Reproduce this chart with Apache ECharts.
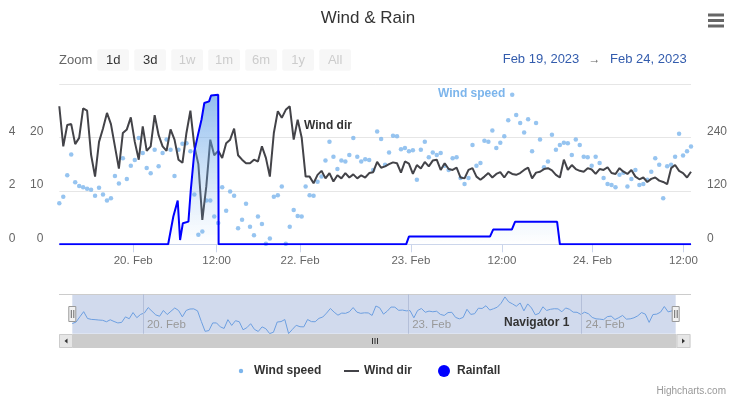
<!DOCTYPE html>
<html>
<head>
<meta charset="utf-8">
<title>Wind &amp; Rain</title>
<script src="https://cdn.jsdelivr.net/npm/echarts@6/dist/echarts.min.js"></script>
</head>
<body style="margin:0;padding:0">
<div id="chart" style="width:736px;height:399px;"></div>
<script type="text/javascript">
var chart = echarts.init(document.getElementById('chart'));

// x is the point index along the (ordinal) time axis
var N = 160;
var tickPos = [18.6, 39.6, 60.6, 88.5, 111.4, 134.2, 157.1];
var tickText = ['20. Feb', '12:00', '22. Feb', '23. Feb', '12:00', '24. Feb', '12:00'];
var navTickPos = [18.6, 88.5, 134.2];
var navTickText = ['20. Feb', '23. Feb', '24. Feb'];

var windSpeed = [
  7.7, 8.9, 12.9, 16.8, 11.6, 10.9, 10.7, 10.4, 10.2, 9.1,
  10.6, 9.3, 8.2, 8.6, 12.8, 11.4, 16.1, 12.2, 14.7, 15.8,
  19.9, 17.1, 14.3, 13.3, 17.7, 14.6, 17.1, 19.6, 17.7, 12.8,
  17.7, 18.8, 18.9, 17.4, 9.3, 1.8, 2.4, 8.2, 8.2, 5.2,
  4.0, 10.7, 6.3, 9.9, 9.1, 3.0, 4.6, 7.6, 3.3, 1.7,
  5.2, 3.8, 0.1, 1.1, 8.9, 9.2, 10.8, 0.1, 3.3, 6.4,
  5.3, 5.2, 10.8, 9.2, 9.1, 11.7, 12.7, 15.7, 19.2, 16.4,
  14.1, 15.7, 15.5, 16.7, 19.9, 16.4, 15.5, 15.9, 15.8, 13.9,
  21.1, 19.7, 14.9, 17.2, 20.3, 20.2, 17.8, 18, 17.4, 17.6,
  12.1, 17.7, 19.2, 16.3, 17.2, 16.7, 17.1, 14.7, 13.9, 16.1,
  16.3, 12.4, 11.3, 12.4, 18.6, 14.7, 15.2, 19.4, 19.2, 21.3,
  18, 19, 20.2, 23.2, 28, 24.2, 22.7, 20.9, 23.4, 17.4,
  22.7, 19.6, 14.4, 15.5, 20.5, 17.7, 18.6, 19, 18.9, 16.7,
  19.6, 18.6, 16.4, 16.3, 14.7, 16.4, 15.2, 12.4, 11.3, 11.1,
  10.7, 13, 13.4, 10.8, 12.2, 13.9, 11.1, 11.3, 12.1, 13.6,
  16.1, 14.9, 8.6, 14.6, 14.9, 16.4, 20.7, 16.6, 17.4, 18.3
];

var windDir = [
  310, 220, 268, 270, 225, 239, 305, 300, 201, 152,
  230, 260, 295, 270, 220, 170, 250, 258, 285, 230,
  190, 265, 210, 220, 290, 245, 220, 210, 258, 235,
  190, 183, 250, 300, 220, 180, 55, 130, 235, 200,
  210, 194, 227, 235, 260, 200, 190, 182, 182, 190,
  186, 220, 194, 152, 250, 299, 284, 302, 310, 235,
  280, 240, 152, 152, 137, 156, 165, 148, 160, 141,
  155, 148, 160, 150, 157, 148, 155, 150, 160, 162,
  185, 172, 175, 180, 184, 182, 161, 186, 181, 158,
  178, 170, 185, 175, 188, 190, 167, 182, 169, 167,
  172, 150, 148, 167, 171, 152, 145, 152, 160, 150,
  158, 162, 150, 163, 158, 156, 160, 167, 172, 148,
  161, 163, 169, 171, 166, 156, 150, 190, 167, 178,
  169, 165, 163, 171, 168, 158, 169, 167, 173, 160,
  158, 171, 163, 158, 167, 152, 146, 150, 140, 147,
  150, 143, 140, 135, 171, 178, 165, 160, 150, 163
];

// rainfall only changes at a few moments
var rainX = [0, 27.4, 28.7, 29.8, 30.4, 31.1, 32.5, 33.1, 34.0, 35.0, 35.8, 36.5, 37.7, 38.2, 40.0, 40.1,
  81.0, 81.5, 82.0, 87.3, 88.0, 108.4, 109.2, 113.9, 114.7, 125.3, 126.0, 159];
var rainY = [0, 0, 1.04, 1.64, 0.16, 0.79, 0.85, 2.04, 3.48, 4.16, 4.67, 5.29, 5.35, 5.57, 5.6, 0,
  0, 0.05, 0, 0, 0.29, 0.29, 0.55, 0.55, 0.84, 0.84, 0, 0];

var zoomButtons = ['1d', '3d', '1w', '1m', '6m', '1y', 'All'];
var enabledButtons = 2;

var FONT = '"Liberation Sans", Arial, sans-serif';

function pairs(arr) {
  return arr.map(function (v, i) { return [i, v]; });
}
function labelFor(pos, txt) {
  return function (v) {
    for (var k = 0; k < pos.length; k++) {
      if (Math.abs(pos[k] - v) < 0.01) return txt[k];
    }
    return '';
  };
}

var graphics = [];
// range selector
graphics.push({ type: 'text', style: { text: 'Zoom', x: 59, y: 60, fill: '#666', font: '13px ' + FONT, verticalAlign: 'middle', textVerticalAlign: 'middle' } });
zoomButtons.forEach(function (b, k) {
  var bx = 97.3 + 37 * k;
  graphics.push({ type: 'rect', shape: { x: bx, y: 49.3, width: 31.7, height: 21.4, r: 2 }, style: { fill: '#f7f7f7' } });
  graphics.push({ type: 'text', style: { text: b, x: bx + 15.85, y: 60, fill: k < enabledButtons ? '#333' : '#cccccc', font: '13px ' + FONT,
    align: 'center', textAlign: 'center', verticalAlign: 'middle', textVerticalAlign: 'middle' } });
});
graphics.push({ type: 'text', style: { text: 'Feb 19, 2023', x: 502.7, y: 59.5, fill: '#335cad', font: '13px ' + FONT, verticalAlign: 'middle', textVerticalAlign: 'middle' } });
graphics.push({ type: 'text', style: { text: '\u2192', x: 594.5, y: 59.5, fill: '#666', font: '12px ' + FONT, align: 'center', textAlign: 'center', verticalAlign: 'middle', textVerticalAlign: 'middle' } });
graphics.push({ type: 'text', style: { text: 'Feb 24, 2023', x: 610, y: 59.5, fill: '#335cad', font: '13px ' + FONT, verticalAlign: 'middle', textVerticalAlign: 'middle' } });

// menu button
[13.5, 19, 24.5].forEach(function (yy) {
  graphics.push({ type: 'rect', shape: { x: 708, y: yy, width: 16, height: 3 }, style: { fill: '#666' } });
});

// series labels
graphics.push({ type: 'text', style: { text: 'Wind speed', x: 438, y: 93.5, fill: '#7cb5ec', font: 'bold 12px ' + FONT, verticalAlign: 'middle', textVerticalAlign: 'middle' } });
graphics.push({ type: 'text', style: { text: 'Wind dir', x: 304, y: 126, fill: '#333', font: 'bold 12px ' + FONT, verticalAlign: 'middle', textVerticalAlign: 'middle' } });
graphics.push({ type: 'text', z: 10, style: { text: 'Navigator 1', x: 504, y: 323, fill: '#333', font: 'bold 12px ' + FONT, verticalAlign: 'middle', textVerticalAlign: 'middle' } });

// navigator outline, handles, scrollbar
graphics.push({ type: 'line', shape: { x1: 59, y1: 294.5, x2: 691, y2: 294.5 }, style: { stroke: '#cccccc', lineWidth: 1 } });
graphics.push({ type: 'rect', shape: { x: 59, y: 334, width: 632, height: 14 }, style: { fill: '#f2f2f2' } });
graphics.push({ type: 'rect', shape: { x: 72.5, y: 334, width: 604, height: 14 }, style: { fill: '#cccccc' } });
graphics.push({ type: 'rect', shape: { x: 59.5, y: 334.5, width: 13, height: 13 }, style: { fill: '#e6e6e6', stroke: '#cccccc', lineWidth: 1 } });
graphics.push({ type: 'rect', shape: { x: 677, y: 334.5, width: 13, height: 13 }, style: { fill: '#e6e6e6', stroke: '#cccccc', lineWidth: 1 } });
graphics.push({ type: 'polygon', shape: { points: [[64.5, 341], [67.5, 338.5], [67.5, 343.5]] }, style: { fill: '#333' } });
graphics.push({ type: 'polygon', shape: { points: [[685, 341], [682, 338.5], [682, 343.5]] }, style: { fill: '#333' } });
[372.5, 375, 377.5].forEach(function (gx) {
  graphics.push({ type: 'line', shape: { x1: gx, y1: 338, x2: gx, y2: 344 }, style: { stroke: '#333', lineWidth: 1 } });
});
[72.3, 675.7].forEach(function (hx) {
  graphics.push({ type: 'rect', z: 10, shape: { x: hx - 3.5, y: 306.5, width: 7, height: 15 }, style: { fill: '#f2f2f2', stroke: '#999', lineWidth: 1 } });
  graphics.push({ type: 'line', z: 11, shape: { x1: hx - 1, y1: 310, x2: hx - 1, y2: 318 }, style: { stroke: '#666', lineWidth: 1 } });
  graphics.push({ type: 'line', z: 11, shape: { x1: hx + 1.5, y1: 310, x2: hx + 1.5, y2: 318 }, style: { stroke: '#666', lineWidth: 1 } });
});

// legend
graphics.push({ type: 'circle', shape: { cx: 241, cy: 371, r: 2.2 }, style: { fill: '#7cb5ec' } });
graphics.push({ type: 'text', style: { text: 'Wind speed', x: 254, y: 371, fill: '#333', font: 'bold 12px ' + FONT, verticalAlign: 'middle', textVerticalAlign: 'middle' } });
graphics.push({ type: 'line', shape: { x1: 344, y1: 371, x2: 359, y2: 371 }, style: { stroke: '#434348', lineWidth: 2 } });
graphics.push({ type: 'text', style: { text: 'Wind dir', x: 364, y: 371, fill: '#333', font: 'bold 12px ' + FONT, verticalAlign: 'middle', textVerticalAlign: 'middle' } });
graphics.push({ type: 'circle', shape: { cx: 444, cy: 371, r: 6 }, style: { fill: '#0000ff' } });
graphics.push({ type: 'text', style: { text: 'Rainfall', x: 457, y: 371, fill: '#333', font: 'bold 12px ' + FONT, verticalAlign: 'middle', textVerticalAlign: 'middle' } });

// credits
graphics.push({ type: 'text', style: { text: 'Highcharts.com', x: 726, y: 391, fill: '#999', font: '10px ' + FONT, align: 'right', textAlign: 'right', verticalAlign: 'middle', textVerticalAlign: 'middle' } });

var yLabel = { verticalAlign: 'bottom', lineHeight: 12, color: '#666', fontSize: 12, showMaxLabel: false, fontFamily: FONT };

var option = {
  animation: false,
  title: {
    text: 'Wind & Rain',
    left: 'center',
    top: 5,
    textStyle: { fontSize: 17, fontWeight: 'normal', color: '#333', fontFamily: FONT }
  },
  grid: [
    { left: 59.3, right: 45, top: 84, height: 160.3 },
    { left: 72.3, right: 60.3, top: 294.3, height: 39.4, show: true, backgroundColor: 'rgba(102,133,194,0.3)', borderWidth: 0 }
  ],
  xAxis: [
    {
      type: 'value', gridIndex: 0, min: 0, max: N - 1,
      axisLine: { show: true, lineStyle: { color: '#ccd6eb' } },
      axisTick: { show: true, customValues: tickPos, length: 8, lineStyle: { color: '#ccd6eb' } },
      axisLabel: { customValues: tickPos, formatter: labelFor(tickPos, tickText), color: '#666', fontSize: 11.5, margin: 10.5, fontFamily: FONT },
      splitLine: { show: false }
    },
    {
      type: 'value', gridIndex: 1, min: 0, max: N - 1,
      axisLine: { show: false },
      axisTick: { show: false },
      axisLabel: { customValues: navTickPos, formatter: labelFor(navTickPos, navTickText), inside: true, align: 'left',
        padding: [0, 0, 0, 4], margin: 3, color: '#999', fontSize: 11.5, fontFamily: FONT },
      splitLine: { show: false }
    }
  ],
  yAxis: [
    {
      type: 'value', gridIndex: 0, position: 'left', min: 0, max: 30, interval: 10,
      axisLine: { show: false }, axisTick: { show: false },
      axisLabel: Object.assign({ margin: 16 }, yLabel),
      splitLine: { show: true, lineStyle: { color: '#e6e6e6' } }
    },
    {
      type: 'value', gridIndex: 0, position: 'left', min: 0, max: 6, interval: 2,
      axisLine: { show: false }, axisTick: { show: false },
      axisLabel: Object.assign({ margin: 44 }, yLabel),
      splitLine: { show: false }
    },
    {
      type: 'value', gridIndex: 0, position: 'right', min: 0, max: 360, interval: 120,
      axisLine: { show: false }, axisTick: { show: false },
      axisLabel: Object.assign({ margin: 16 }, yLabel),
      splitLine: { show: false }
    },
    {
      type: 'value', gridIndex: 1, min: 0, max: 30,
      axisLine: { show: false }, axisTick: { show: false }, axisLabel: { show: false }, splitLine: { show: false }
    }
  ],
  series: [
    {
      name: 'Wind speed', type: 'scatter', xAxisIndex: 0, yAxisIndex: 0,
      data: pairs(windSpeed), symbolSize: 4.5,
      itemStyle: { color: '#7cb5ec' }, z: 2
    },
    {
      name: 'Wind dir', type: 'line', xAxisIndex: 0, yAxisIndex: 2,
      data: pairs(windDir), showSymbol: false,
      lineStyle: { color: '#434348', width: 2 }, z: 3
    },
    {
      name: 'Rainfall', type: 'line', xAxisIndex: 0, yAxisIndex: 1,
      data: rainX.map(function (x, k) { return [x, rainY[k]]; }), showSymbol: false,
      lineStyle: { color: '#0000ff', width: 2 },
      areaStyle: {
        color: {
          type: 'linear', x: 0, y: 0, x2: 0, y2: 1,
          colorStops: [{ offset: 0, color: 'rgba(100,162,232,1)' }, { offset: 1, color: 'rgba(124,181,236,0)' }]
        }
      },
      z: 4
    },
    {
      name: 'Navigator 1', type: 'line', xAxisIndex: 1, yAxisIndex: 3,
      data: pairs(windSpeed), showSymbol: false,
      lineStyle: { color: '#6d9fe0', width: 1 },
      markLine: {
        silent: true, symbol: 'none', label: { show: false },
        lineStyle: { color: '#b4bfd9', width: 1, type: 'solid' },
        data: navTickPos.map(function (v) { return { xAxis: v }; })
      }
    }
  ],
  graphic: { elements: graphics }
};

chart.setOption(option);
</script>
</body>
</html>
